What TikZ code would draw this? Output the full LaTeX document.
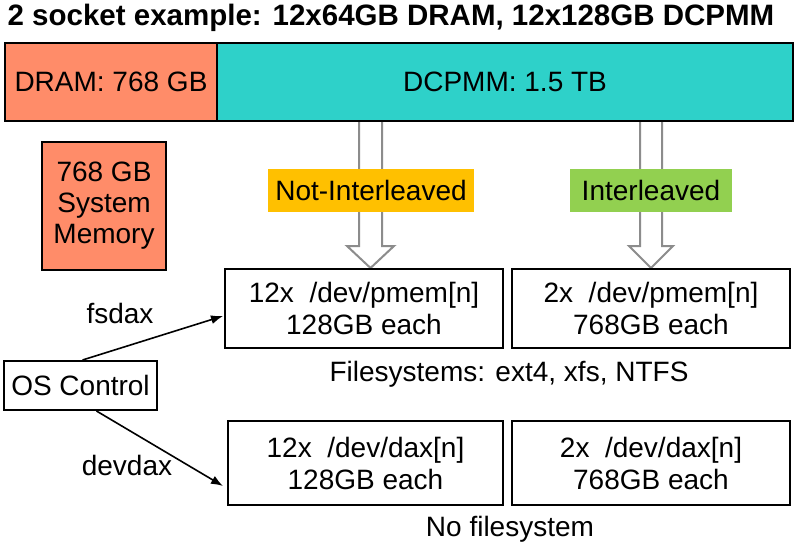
\documentclass[tikz,border=0pt]{standalone}
\usepackage{fontspec}
\setmainfont{Liberation Sans}
\usetikzlibrary{arrows.meta}
\definecolor{dramc}{RGB}{255,140,105}
\definecolor{pmmc}{RGB}{46,209,201}
\definecolor{orangec}{RGB}{255,192,0}
\definecolor{greenc}{RGB}{146,208,80}
\definecolor{arrowgray}{RGB}{140,140,140}
\tikzset{
  body/.style={font=\fontsize{28}{32}\selectfont, inner sep=0pt, align=center},
  boxed/.style={draw=black, line width=2pt, inner sep=0pt, align=center, font=\fontsize{28}{32}\selectfont},
  blockarrow/.style={draw=arrowgray, fill=white, line width=2pt, line join=miter},
  conn/.style={draw=black, line width=1.6pt, -{Latex[length=12pt,width=9pt]}}
}
\begin{document}
\begin{tikzpicture}[x=1pt,y=-1pt]
\useasboundingbox[fill=white] (0,0) rectangle (797,549);
% title
\node[font=\fontsize{29.5}{32}\selectfont\bfseries, inner sep=0pt] (title) at (391,18) {2 socket example: 12x64GB DRAM, 12x128GB DCPMM};
% block arrows
\draw[blockarrow] (359,121) -- (359,246) -- (347,246) -- (370.5,268) -- (394,246) -- (382,246) -- (382,121);
\draw[blockarrow] (640,121) -- (640,246) -- (629,246) -- (651,268) -- (673,246) -- (662,246) -- (662,121);
% top bar
\draw[line width=2pt, fill=dramc] (5,43) rectangle (217,121);
\draw[line width=2pt, fill=pmmc] (217,43) rectangle (793,121);
\node[body] (dram) at (111,82) {DRAM: 768 GB};
\node[body] (dcpmm) at (505,82) {DCPMM: 1.5 TB};
% labels on arrows
\node[body, fill=orangec, minimum width=206pt, minimum height=43pt] (noni) at (371,190.5) {Not-Interleaved};
\node[body, fill=greenc, minimum width=162pt, minimum height=43pt] (inter) at (651,190.5) {Interleaved};
% system memory
\node[boxed, fill=dramc, minimum width=124pt, minimum height=128pt, line width=1.8pt, font=\fontsize{28}{31}\selectfont] (sysmem) at (104,206) {768 GB\\System\\Memory};
% device boxes
\node[boxed, minimum width=278pt, minimum height=79pt] (pmem1) at (364,308.5) {12x\ \ /dev/pmem[n]\\128GB each};
\node[boxed, minimum width=278pt, minimum height=79pt] (pmem2) at (651,308.5) {2x\ \ /dev/pmem[n]\\768GB each};
\node[boxed, minimum width=275pt, minimum height=84pt] (dax1) at (365.5,463) {12x\ \ /dev/dax[n]\\128GB each};
\node[boxed, minimum width=278pt, minimum height=84pt] (dax2) at (651,463) {2x\ \ /dev/dax[n]\\768GB each};
% os control
\node[boxed, minimum width=153pt, minimum height=49pt] (os) at (80.5,385.5) {OS Control};
% captions
\node[body] (fsdax) at (120,313) {fsdax};
\node[body] (devdax) at (127,465) {devdax};
\node[body] (fs) at (509,374) {Filesystems: ext4, xfs, NTFS};
\node[body] (nofs) at (510,529) {No filesystem};
% connectors
\draw[conn] ([xshift=2pt]os.north) -- ([xshift=-1pt,yshift=-7.5pt]pmem1.west);
\draw[conn] ([xshift=16pt]os.south) -- ([xshift=-4pt,yshift=20pt]dax1.south west);
\end{tikzpicture}
\end{document}
